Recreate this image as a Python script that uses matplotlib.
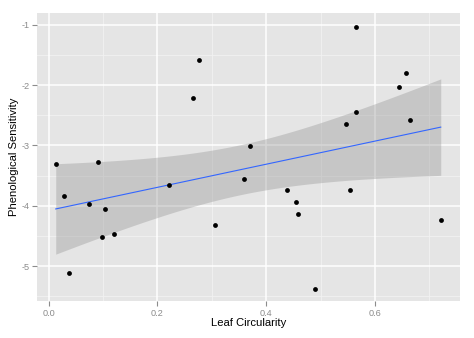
import matplotlib
matplotlib.use("Agg")
import matplotlib.pyplot as plt
import numpy as np

# Leaf circularity vs phenological sensitivity
circularity = [0.013, 0.091, 0.266, 0.277, 0.566, 0.658, 0.645, 0.566, 0.547,
               0.664, 0.370, 0.028, 0.075, 0.104, 0.221, 0.098, 0.120, 0.037,
               0.306, 0.359, 0.438, 0.454, 0.459, 0.554, 0.721, 0.489]
sensitivity = [-3.31, -3.27, -2.21, -1.58, -1.03, -1.80, -2.03, -2.45, -2.64,
               -2.58, -3.01, -3.83, -3.97, -4.05, -3.65, -4.52, -4.46, -5.11,
               -4.31, -3.55, -3.73, -3.93, -4.13, -3.74, -4.23, -5.38]

x_ticks = [0.0, 0.2, 0.4, 0.6]
y_ticks = [-5, -4, -3, -2, -1]

plt.rcParams["font.family"] = ["Liberation Sans", "DejaVu Sans"]
plt.rcParams["axes.unicode_minus"] = False

x = np.array(circularity)
y = np.array(sensitivity)

# linear fit with 95% confidence band, like geom_smooth(method="lm")
n = len(x)
slope, intercept = np.polyfit(x, y, 1)
resid = y - (intercept + slope * x)
s = np.sqrt(np.sum(resid ** 2) / (n - 2))
xg = np.linspace(x.min(), x.max(), 80)
yg = intercept + slope * xg
se = s * np.sqrt(1 / n + (xg - x.mean()) ** 2 / np.sum((x - x.mean()) ** 2))
t = 2.0639  # t(0.975, 24)

fig = plt.figure(figsize=(4.74, 3.38), dpi=100)
ax = fig.add_axes([0.078, 0.1095, 0.892, 0.852])
ax.set_facecolor("#E5E5E5")

for v in [0.1, 0.3, 0.5, 0.7]:
    ax.axvline(v, color="#F2F2F2", lw=0.6, zorder=0)
for v in [-5.5, -4.5, -3.5, -2.5, -1.5]:
    ax.axhline(v, color="#F2F2F2", lw=0.6, zorder=0)
for v in x_ticks:
    ax.axvline(v, color="white", lw=1.1, zorder=0)
for v in y_ticks:
    ax.axhline(v, color="white", lw=1.1, zorder=0)

ax.fill_between(xg, yg - t * se, yg + t * se, color="#999999", alpha=0.4,
                lw=0, zorder=1)
ax.plot(xg, yg, color="#3366FF", lw=0.8, zorder=2)
ax.scatter(x, y, s=12, color="black", zorder=3, linewidths=0)

ax.set_xlim(-0.0215, 0.756)
ax.set_ylim(-5.575, -0.806)
ax.set_xticks(x_ticks)
ax.set_xticklabels(["0.0", "0.2", "0.4", "0.6"])
ax.set_yticks(y_ticks)
ax.set_yticklabels([str(v) for v in y_ticks])
ax.tick_params(colors="#8C8C8C", labelsize=6.6, length=3.5, width=0.8, pad=2)
for sp in ax.spines.values():
    sp.set_visible(False)

ax.set_xlabel("Leaf Circularity", fontsize=8.1)
ax.set_ylabel("Phenological Sensitivity", fontsize=8.1)
ax.xaxis.set_label_coords(0.5, -0.06)
ax.yaxis.set_label_coords(-0.043, 0.5)

fig.savefig("out.png", dpi=100)
